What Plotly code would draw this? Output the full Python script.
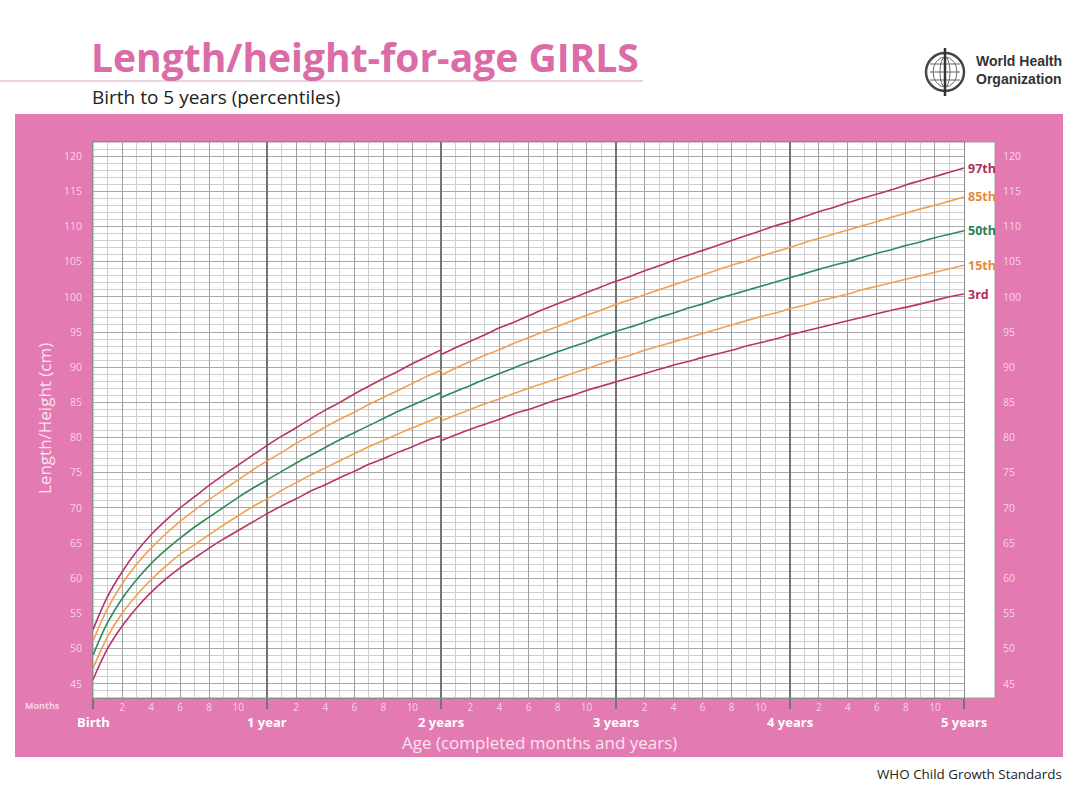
import plotly.graph_objects as go

W, H = 1080, 792

# ---------------- data (WHO girls length/height-for-age, cm) ----------------
months_len = list(range(0, 25))
months_hgt = list(range(24, 61))

p3_len = [45.6, 50.0, 53.2, 55.8, 58.0, 59.9, 61.5, 62.9, 64.3, 65.6, 66.8, 68.0, 69.2,
          70.3, 71.3, 72.4, 73.3, 74.3, 75.2, 76.2, 77.0, 77.9, 78.7, 79.6, 80.3]
p15_len = [47.2, 51.7, 55.0, 57.6, 59.8, 61.7, 63.4, 64.8, 66.2, 67.6, 68.9, 70.2, 71.3,
           72.5, 73.6, 74.7, 75.7, 76.7, 77.7, 78.7, 79.6, 80.5, 81.4, 82.2, 83.1]
p50_len = [49.1, 53.7, 57.1, 59.8, 62.1, 64.0, 65.7, 67.3, 68.7, 70.1, 71.5, 72.8, 74.0,
           75.2, 76.4, 77.5, 78.6, 79.7, 80.7, 81.7, 82.7, 83.7, 84.6, 85.5, 86.4]
p85_len = [51.1, 55.7, 59.2, 62.0, 64.3, 66.3, 68.1, 69.7, 71.2, 72.6, 74.0, 75.4, 76.7,
           77.9, 79.2, 80.3, 81.5, 82.6, 83.6, 84.7, 85.7, 86.7, 87.7, 88.7, 89.6]
p97_len = [52.7, 57.4, 60.9, 63.8, 66.2, 68.2, 70.0, 71.6, 73.2, 74.7, 76.1, 77.5, 78.9,
           80.2, 81.4, 82.7, 83.9, 85.0, 86.2, 87.3, 88.4, 89.4, 90.5, 91.5, 92.5]

p3_hgt = [79.6, 80.4, 81.2, 81.9, 82.6, 83.4, 84.0, 84.7, 85.4, 86.0, 86.7, 87.3, 87.9,
          88.5, 89.1, 89.7, 90.3, 90.8, 91.4, 91.9, 92.4, 93.0, 93.5, 94.0, 94.6,
          95.1, 95.6, 96.1, 96.6, 97.1, 97.6, 98.1, 98.5, 99.0, 99.5, 100.0, 100.4]
p15_hgt = [82.4, 83.2, 84.0, 84.8, 85.5, 86.3, 87.0, 87.7, 88.4, 89.1, 89.8, 90.5, 91.1,
           91.7, 92.4, 93.0, 93.6, 94.2, 94.8, 95.4, 96.0, 96.6, 97.2, 97.7, 98.3,
           98.8, 99.4, 99.9, 100.4, 101.0, 101.5, 102.0, 102.5, 103.0, 103.5, 104.0, 104.5]
p50_hgt = [85.7, 86.6, 87.4, 88.3, 89.1, 89.9, 90.7, 91.4, 92.2, 92.9, 93.6, 94.4, 95.1,
           95.7, 96.4, 97.1, 97.7, 98.4, 99.0, 99.7, 100.3, 100.9, 101.5, 102.1, 102.7,
           103.3, 103.9, 104.5, 105.0, 105.6, 106.2, 106.7, 107.3, 107.8, 108.4, 108.9, 109.4]
p85_hgt = [88.9, 89.9, 90.8, 91.7, 92.5, 93.4, 94.2, 95.0, 95.8, 96.6, 97.4, 98.1, 98.9,
           99.6, 100.3, 101.0, 101.7, 102.4, 103.1, 103.8, 104.5, 105.1, 105.8, 106.4, 107.0,
           107.7, 108.3, 108.9, 109.5, 110.1, 110.7, 111.3, 111.9, 112.5, 113.0, 113.6, 114.2]
p97_hgt = [91.8, 92.8, 93.7, 94.6, 95.6, 96.4, 97.3, 98.2, 99.0, 99.8, 100.6, 101.4, 102.2,
           102.9, 103.7, 104.4, 105.2, 105.9, 106.6, 107.3, 108.0, 108.7, 109.4, 110.1, 110.7,
           111.4, 112.1, 112.7, 113.4, 114.0, 114.6, 115.2, 115.9, 116.5, 117.1, 117.7, 118.3]

percentile_names = ["3rd", "15th", "50th", "85th", "97th"]
len_series = [p3_len, p15_len, p50_len, p85_len, p97_len]
hgt_series = [p3_hgt, p15_hgt, p50_hgt, p85_hgt, p97_hgt]
line_colors = ["#B8336A", "#F0A050", "#2E8A5C", "#F0A050", "#B8336A"]
label_colors = ["#B22A58", "#E8893A", "#2A8050", "#E8893A", "#B22A58"]

year_positions = [0, 12, 24, 36, 48, 60]
year_labels = ["Birth", "1 year", "2 years", "3 years", "4 years", "5 years"]
month_ticks = [m for m in range(2, 60, 2) if m % 12 != 0]
month_text = [str(m % 12) for m in month_ticks]
odd_months = [m for m in range(1, 60, 2)]
cm_ticks = list(range(45, 121, 5))
cm_minor = [v for v in range(43, 123) if v % 5 != 0]

# ---------------- layout geometry ----------------
PINK = "#E37AB1"
TICKPINK = "#F7D3E6"
x0p, x1p = 93 / W, 964 / W
y0p, y1p = 1 - 698 / H, 1 - 142 / H


def py(v):
    return 1 - v / H


def px(v):
    return v / W


fig = go.Figure()

for name, ys_l, ys_h, col in zip(percentile_names, len_series, hgt_series, line_colors):
    fig.add_trace(go.Scatter(
        x=months_len + [None] + months_hgt,
        y=ys_l + [None] + ys_h,
        mode="lines", line=dict(color=col, width=1.6, shape="spline", smoothing=1.0),
        connectgaps=False, showlegend=False, hoverinfo="skip", name=name))

# invisible traces that activate the right-hand axis and the year-line axis
fig.add_trace(go.Scatter(x=months_hgt, y=p50_hgt, yaxis="y2", mode="lines",
                         opacity=0, showlegend=False, hoverinfo="skip"))
fig.add_trace(go.Scatter(x=months_hgt, y=p50_hgt, xaxis="x2", mode="lines",
                         opacity=0, showlegend=False, hoverinfo="skip"))

shapes = []
# pink panel
shapes.append(dict(type="rect", xref="paper", yref="paper", x0=px(15), x1=px(1063),
                   y0=py(757), y1=py(114), fillcolor=PINK, line=dict(width=0), layer="below"))
# white chart area (grid + label column)
shapes.append(dict(type="rect", xref="paper", yref="paper", x0=x0p, x1=px(995),
                   y0=y0p, y1=y1p, fillcolor="white", line=dict(color="#9a9a9a", width=1),
                   layer="below"))
# title rule
shapes.append(dict(type="line", xref="paper", yref="paper", x0=0, x1=px(643),
                   y0=py(81), y1=py(81), line=dict(color="#D9A3BF", width=1.2)))

# simple WHO emblem
cx, cy, r = 945, 72, 19
shapes.append(dict(type="circle", xref="paper", yref="paper",
                   x0=px(cx - r), x1=px(cx + r), y0=py(cy + r), y1=py(cy - r),
                   line=dict(color="#444", width=2.5)))
for rw in [12, 5]:
    shapes.append(dict(type="circle", xref="paper", yref="paper",
                       x0=px(cx - rw), x1=px(cx + rw), y0=py(cy + 15), y1=py(cy - 15),
                       line=dict(color="#666", width=1)))
for dy in [-8, 0, 8]:
    shapes.append(dict(type="line", xref="paper", yref="paper",
                       x0=px(cx - 15), x1=px(cx + 15), y0=py(cy + dy), y1=py(cy + dy),
                       line=dict(color="#666", width=1)))
shapes.append(dict(type="line", xref="paper", yref="paper", x0=px(cx), x1=px(cx),
                   y0=py(cy + 24), y1=py(cy - 24), line=dict(color="#333", width=2.5)))

annotations = []
annotations.append(dict(text="<b>Length/height-for-age GIRLS</b>", xref="paper", yref="paper",
                        x=px(89), y=py(56), xanchor="left", yanchor="middle", showarrow=False,
                        font=dict(family="Open Sans", size=39, color="#DA6CA7")))
annotations.append(dict(text="Birth to 5 years (percentiles)", xref="paper", yref="paper",
                        x=px(90), y=py(97), xanchor="left", yanchor="middle", showarrow=False,
                        font=dict(family="Open Sans", size=19, color="#222")))
annotations.append(dict(text="<b>World Health<br>Organization</b>", xref="paper", yref="paper",
                        x=px(974), y=py(70), xanchor="left", yanchor="middle", showarrow=False,
                        align="left",
                        font=dict(family="Liberation Sans Narrow, Arial Narrow, sans-serif",
                                  size=14, color="#333")))
annotations.append(dict(text="WHO Child Growth Standards", xref="paper", yref="paper",
                        x=px(1064), y=py(774), xanchor="right", yanchor="middle", showarrow=False,
                        font=dict(family="Open Sans", size=13.4, color="#222")))
annotations.append(dict(text="<b>Months</b>", xref="paper", yref="paper",
                        x=px(42), y=py(705), xanchor="center", yanchor="middle", showarrow=False,
                        font=dict(family="Open Sans", size=9, color=TICKPINK)))
for yp, lab in zip(year_positions, year_labels):
    annotations.append(dict(text="<b>" + lab + "</b>", xref="x", yref="paper",
                            x=yp, y=py(722), xanchor="center", yanchor="middle",
                            showarrow=False,
                            font=dict(family="Open Sans", size=13, color="white")))
annotations.append(dict(text="Age (completed months and years)", xref="paper", yref="paper",
                        x=px(539), y=py(742), xanchor="center", yanchor="middle",
                        showarrow=False, font=dict(family="Open Sans", size=17, color="#FBE2EF")))
annotations.append(dict(text="Length/Height (cm)", xref="paper", yref="paper",
                        x=px(44), y=py(419), xanchor="center", yanchor="middle", textangle=-90,
                        showarrow=False, font=dict(family="Open Sans", size=17, color="#FBE2EF")))
for name, ys_h, col in zip(percentile_names, hgt_series, label_colors):
    annotations.append(dict(text="<b>" + name + "</b>", xref="x", yref="y",
                            x=60, y=ys_h[-1], xanchor="left", yanchor="middle", xshift=2,
                            showarrow=False,
                            font=dict(family="Open Sans", size=12.5, color=col)))

fig.update_layout(
    width=W, height=H, margin=dict(l=0, r=0, t=0, b=0),
    paper_bgcolor="white", plot_bgcolor="white",
    shapes=shapes, annotations=annotations, showlegend=False,
    xaxis=dict(domain=[x0p, x1p], range=[0, 60], tickmode="array",
               tickvals=month_ticks, ticktext=month_text, ticks="",
               tickfont=dict(family="Open Sans", size=10, color=TICKPINK),
               showgrid=True, gridcolor="#9e9e9e", gridwidth=1,
               minor=dict(tickvals=odd_months, showgrid=True, gridcolor="#cdcdcd", gridwidth=1),
               showline=True, linecolor="#8a8a8a", linewidth=1, mirror=True,
               zeroline=False, fixedrange=True),
    xaxis2=dict(overlaying="x", side="bottom", anchor="y", range=[0, 60], tickmode="array",
                tickvals=year_positions, showticklabels=False,
                ticks="outside", ticklen=10, tickwidth=2.2, tickcolor="#747474",
                showgrid=True, gridcolor="#747474", gridwidth=2.2,
                showline=False, zeroline=False, fixedrange=True),
    yaxis=dict(domain=[y0p, y1p], range=[43, 122], tickmode="array",
               tickvals=cm_ticks, ticks="outside", ticklen=8, tickcolor="rgba(0,0,0,0)",
               tickfont=dict(family="Open Sans", size=10.5, color=TICKPINK),
               showgrid=True, gridcolor="#a8a8a8", gridwidth=1,
               minor=dict(tickvals=cm_minor, showgrid=True, gridcolor="#cfcfcf", gridwidth=1),
               showline=True, linecolor="#8a8a8a", linewidth=1, mirror=True,
               zeroline=False, fixedrange=True),
    yaxis2=dict(overlaying="y", side="right", anchor="free", position=px(1002),
                range=[43, 122], tickmode="array", tickvals=cm_ticks, ticks="",
                tickfont=dict(family="Open Sans", size=10.5, color=TICKPINK),
                showgrid=False, showline=False, zeroline=False, fixedrange=True),
)

fig.write_html("out.html")
